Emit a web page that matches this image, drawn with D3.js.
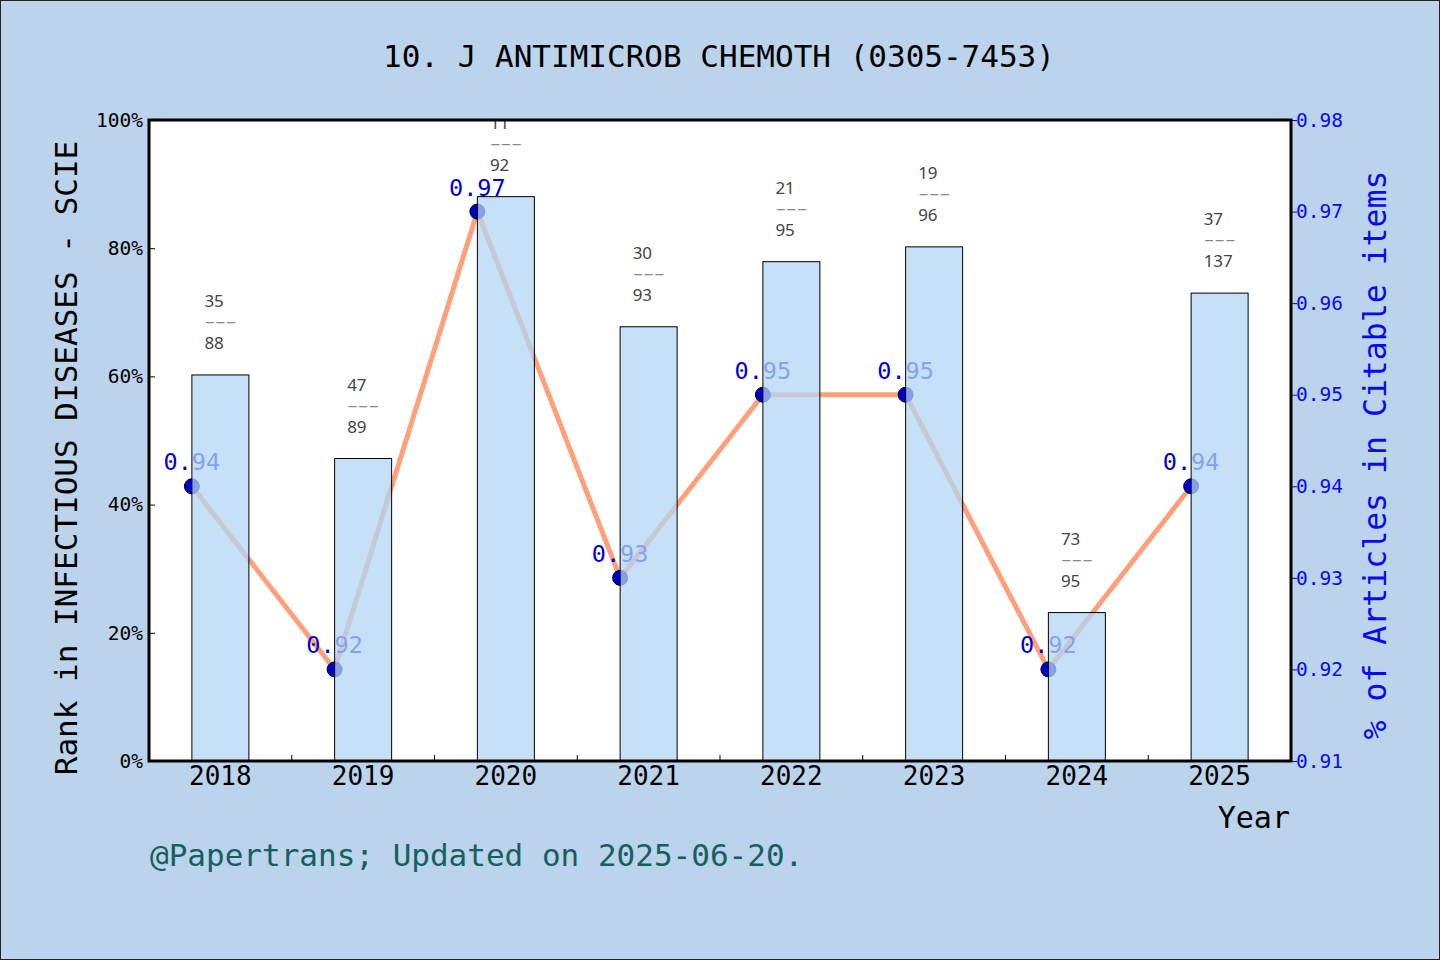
<!DOCTYPE html>
<html>
<head>
<meta charset="utf-8">
<script src="https://cdn.jsdelivr.net/npm/d3@7"></script>
<style>
  html, body { margin: 0; padding: 0; background: #bcd3ec; }
  svg { display: block; }
</style>
</head>
<body>
<script>
/// chart values
var years   = ["2018", "2019", "2020", "2021", "2022", "2023", "2024", "2025"]
var ranks   = [35, 47, 11, 30, 21, 19, 73, 37]     /// rank in category
var totals  = [88, 89, 92, 93, 95, 96, 95, 137]    /// journals in category
var citable = [0.94, 0.92, 0.97, 0.93, 0.95, 0.95, 0.92, 0.94]
var leftTicks  = [0, 0.2, 0.4, 0.6, 0.8, 1.0]
var rightTicks = [0.91, 0.92, 0.93, 0.94, 0.95, 0.96, 0.97, 0.98]

var W = 1440, H = 960
var m = {left: 149, right: 1291, top: 120, bottom: 761}
var mono = "'DejaVu Sans Mono', 'Liberation Mono', monospace"
var sans = "'Noto Sans', 'Open Sans', sans-serif"

var svg = d3.select("body").append("svg")
    .attr("width", W).attr("height", H)

svg.append("rect")  /// background + thin outer border
    .attr("x", 0.5).attr("y", 0.5).attr("width", W - 1).attr("height", H - 1)
    .attr("fill", "#bcd3ec").attr("stroke", "#222").attr("stroke-width", 1)

var x = d3.scaleBand().domain(years).range([m.left, m.right])
var yL = d3.scaleLinear().domain([0, 1]).range([m.bottom, m.top])
var yR = d3.scaleLinear().domain([0.91, 0.98]).range([m.bottom, m.top])
var barW = 57

var share = years.map((d, i) => 1 - ranks[i] / totals[i])  /// bar height = 1 - rank/total
var px = (d, i) => x(years[i]) + x.bandwidth() / 2 - barW / 2  /// point sits on the bar's left edge

/// plot area
svg.append("rect")
    .attr("x", m.left).attr("y", m.top)
    .attr("width", m.right - m.left).attr("height", m.bottom - m.top)
    .attr("fill", "#fff")

svg.append("defs").append("clipPath").attr("id", "plotclip")
  .append("rect")
    .attr("x", m.left).attr("y", m.top)
    .attr("width", m.right - m.left).attr("height", m.bottom - m.top)

var plot = svg.append("g")

/// line for citable share
plot.append("path")
    .datum(citable)
    .attr("d", d3.line().x(px).y(d => yR(d)))
    .attr("fill", "none")
    .attr("stroke", "#ffa07a")
    .attr("stroke-width", 5)

plot.selectAll("circle.pt")
    .data(citable)
    .enter().append("circle")
    .attr("class", "pt")
    .attr("cx", px)
    .attr("cy", d => yR(d))
    .attr("r", 7.5)
    .attr("fill", "#0000cc")
    .attr("stroke", "#000")
    .attr("stroke-width", 1)

plot.selectAll("text.val")
    .data(citable)
    .enter().append("text")
    .attr("class", "val")
    .attr("x", px)
    .attr("y", d => yR(d) - 16)
    .attr("text-anchor", "middle")
    .attr("font-family", mono)
    .attr("font-size", "23.5px")
    .attr("fill", "#0000d2")
    .text(d => d.toFixed(2))

/// semi transparent bars drawn on top of the line
plot.selectAll("rect.bar")
    .data(share)
    .enter().append("rect")
    .attr("class", "bar")
    .attr("x", (d, i) => x(years[i]) + x.bandwidth() / 2 - barW / 2)
    .attr("y", d => yL(d))
    .attr("width", barW)
    .attr("height", d => yL(0) - yL(d))
    .attr("fill", "rgba(178,214,244,0.75)")
    .attr("stroke", "#000")
    .attr("stroke-width", 1)

/// rank / total annotations above bars
var ann = plot.append("g").attr("clip-path", "url(#plotclip)")
    .selectAll("g.ann")
    .data(share)
    .enter().append("g")
    .attr("class", "ann")
    .attr("transform", (d, i) => "translate(" + (x(years[i]) + x.bandwidth() / 2 - 16) + "," + yL(d) + ")")

ann.append("text")
    .attr("y", -68)
    .attr("font-family", sans)
    .attr("font-size", "17px").attr("fill", "#444")
    .text((d, i) => ranks[i])
ann.append("text")
    .attr("y", -48)
    .attr("font-family", sans)
    .attr("font-size", "17px").attr("fill", "#8a8a8a")
    .attr("textLength", 32).attr("lengthAdjust", "spacingAndGlyphs")
    .text("---")
ann.append("text")
    .attr("y", -26)
    .attr("font-family", sans)
    .attr("font-size", "17px").attr("fill", "#444")
    .text((d, i) => totals[i])

/// axes
var gl = svg.append("g").attr("transform", "translate(" + m.left + ",0)")
    .call(d3.axisRight(yL).tickValues(leftTicks).tickSize(6).tickFormat(d3.format(".0%")))
gl.select(".domain").remove()
gl.selectAll("text")
    .attr("x", -6).attr("text-anchor", "end")
    .attr("font-family", mono).attr("font-size", "19.5px").attr("fill", "#000")

var gr = svg.append("g").attr("transform", "translate(" + m.right + ",0)")
    .call(d3.axisRight(yR).tickValues(rightTicks).tickSize(6).tickFormat(d3.format(".2f")))
gr.select(".domain").remove()
gr.selectAll("line").attr("stroke", "#0000ee")
gr.selectAll("text")
    .attr("x", 5)
    .attr("font-family", mono).attr("font-size", "19.5px").attr("fill", "#0a0af0")

var gx = svg.append("g").attr("transform", "translate(0," + m.bottom + ")")
    .call(d3.axisBottom(x).tickSize(0))
gx.select(".domain").remove()
gx.selectAll("text")
    .attr("y", 6)
    .attr("dy", "0.71em")
    .attr("font-family", mono).attr("font-size", "26px").attr("fill", "#000")

/// minor ticks on the band boundaries
svg.append("g").selectAll("line")
    .data(years.slice(1))
    .enter().append("line")
    .attr("x1", d => x(d)).attr("x2", d => x(d))
    .attr("y1", m.bottom).attr("y2", m.bottom - 6)
    .attr("stroke", "#000")

/// frame
svg.append("rect")
    .attr("x", m.left).attr("y", m.top)
    .attr("width", m.right - m.left).attr("height", m.bottom - m.top)
    .attr("fill", "none").attr("stroke", "#000").attr("stroke-width", 3)

/// titles
svg.append("text")
    .attr("x", 719).attr("y", 67)
    .attr("text-anchor", "middle")
    .attr("font-family", mono).attr("font-size", "31px").attr("fill", "#000")
    .text("10. J ANTIMICROB CHEMOTH (0305-7453)")

svg.append("text")
    .attr("transform", "translate(77,458) rotate(-90)")
    .attr("text-anchor", "middle")
    .attr("font-family", mono).attr("font-size", "31px").attr("fill", "#000")
    .text("Rank in INFECTIOUS DISEASES - SCIE")

svg.append("text")
    .attr("transform", "translate(1386,455) rotate(-90)")
    .attr("text-anchor", "middle")
    .attr("font-family", mono).attr("font-size", "31.5px").attr("fill", "#0a0af0")
    .text("% of Articles in Citable items")

svg.append("text")
    .attr("x", 1290).attr("y", 828)
    .attr("text-anchor", "end")
    .attr("font-family", mono).attr("font-size", "30px").attr("fill", "#000")
    .text("Year")

svg.append("text")
    .attr("x", 150).attr("y", 866)
    .attr("font-family", mono).attr("font-size", "31px").attr("fill", "#15605f")
    .text("@Papertrans; Updated on 2025-06-20.")
</script>
</body>
</html>
